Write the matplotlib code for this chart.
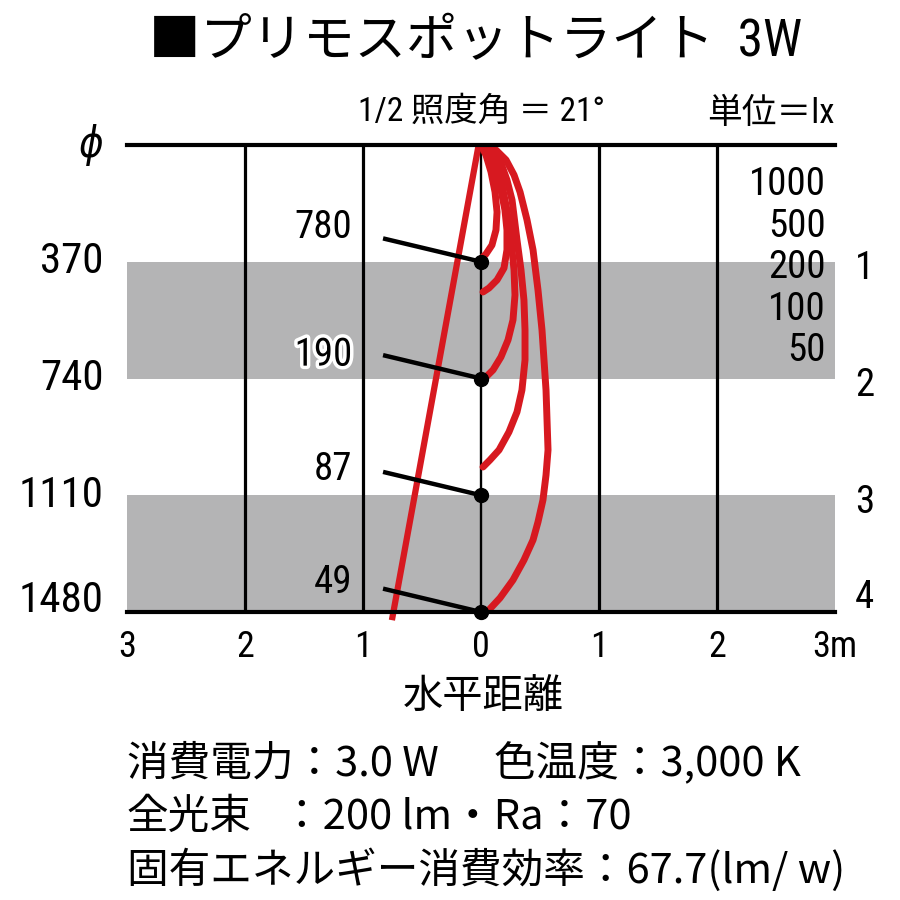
import matplotlib
matplotlib.use('Agg')
import matplotlib.pyplot as plt
import matplotlib.patheffects as pe
from matplotlib import font_manager

# 数字用に細身のフォントを探す（無ければ Noto Sans CJK JP のまま）
narrow_family = None
narrow_stretch = 'normal'
for f in font_manager.fontManager.ttflist:
    if f.name in ('Liberation Sans Narrow', 'Roboto Condensed'):
        narrow_family, narrow_stretch = f.name, f.stretch
        break
if narrow_family is None:
    for f in font_manager.fontManager.ttflist:
        if f.style == 'normal' and ('Condensed' in f.name or 'Narrow' in f.name
                                    or f.stretch in ('condensed', 'semi-condensed', 550, 600, 612, 625)):
            narrow_family, narrow_stretch = f.name, f.stretch
            break

families = ['Noto Sans CJK JP', 'DejaVu Sans']
if narrow_family:
    families = [narrow_family] + families
    plt.rcParams['font.stretch'] = narrow_stretch
plt.rcParams['font.family'] = families
SPEC_FONT = ['Noto Sans CJK JP', 'DejaVu Sans']

RED = '#d71920'
GRAY = '#b4b4b5'

# 照度分布（等照度曲線）: 水平距離 x[m], 距離 y[m]
lux_levels = ['1000', '500', '200', '100', '50']
curve_x = {
    '1000': [0.0, 0.042, 0.085, 0.119, 0.136, 0.127, 0.093, 0.042, 0.008],
    '500': [0.0, 0.059, 0.119, 0.169, 0.203, 0.220, 0.220, 0.195, 0.136, 0.068, 0.017],
    '200': [0.0, 0.076, 0.136, 0.178, 0.220, 0.254, 0.280, 0.288, 0.271, 0.229,
            0.169, 0.102, 0.042],
    '100': [0.0, 0.102, 0.169, 0.220, 0.263, 0.305, 0.339, 0.364, 0.373, 0.373,
            0.347, 0.305, 0.237, 0.153, 0.076, 0.017],
    '50': [0.0, 0.127, 0.212, 0.280, 0.331, 0.390, 0.441, 0.483, 0.517, 0.551,
           0.568, 0.551, 0.525, 0.483, 0.441, 0.364, 0.271, 0.161, 0.051],
}
curve_y = {
    '1000': [0.0, 0.086, 0.231, 0.403, 0.574, 0.728, 0.857, 0.934, 0.968],
    '500': [0.0, 0.086, 0.214, 0.385, 0.557, 0.728, 0.899, 1.054, 1.156, 1.225, 1.259],
    '200': [0.0, 0.069, 0.197, 0.343, 0.557, 0.814, 1.071, 1.285, 1.499, 1.670,
            1.816, 1.927, 1.987],
    '100': [0.0, 0.060, 0.154, 0.300, 0.471, 0.814, 1.071, 1.328, 1.585, 1.842,
            2.099, 2.287, 2.458, 2.612, 2.698, 2.758],
    '50': [0.0, 0.043, 0.128, 0.257, 0.403, 0.642, 0.899, 1.242, 1.585, 2.099,
           2.612, 2.827, 3.041, 3.229, 3.383, 3.555, 3.726, 3.880, 4.0],
}

# 1/2照度角の境界線
beam_x = [-0.02, -0.755]
beam_y = [0.0, 4.07]

# 直下照度と照射径
dist_m = [1, 2, 3, 4]
center_lux = ['780', '190', '87', '49']
center_lux_y = [0.71, 1.80, 2.78, 3.75]
diameters = ['370', '740', '1110', '1480']
dist_labels = ['1', '2', '3', '4']

x_ticks = [-3, -2, -1, 0, 1, 2, 3]
x_labels = ['3', '2', '1', '0', '1', '2', '3m']

fig = plt.figure(figsize=(9, 9), dpi=100)
ax = fig.add_axes([127 / 900, 1 - 612 / 900, 708 / 900, 467 / 900])
ax.set_xlim(-3, 3)
ax.set_ylim(4, 0)

# 背景の帯
ax.axhspan(1, 2, color=GRAY, lw=0, zorder=0)
ax.axhspan(3, 4, color=GRAY, lw=0, zorder=0)

# 枠と縦線
for s in ['left', 'right']:
    ax.spines[s].set_visible(False)
for s in ['top', 'bottom']:
    ax.spines[s].set_linewidth(3)
    ax.spines[s].set_zorder(3)
ax.vlines([-2, -1, 1, 2], 0, 4, colors='black', lw=2.3, zorder=1)
ax.vlines(0, 0, 4, colors='black', lw=1.7, zorder=1)

# 曲線
for lv in lux_levels:
    ax.plot(curve_x[lv], curve_y[lv], color=RED, lw=5,
            solid_capstyle='round', solid_joinstyle='round', zorder=2)
ax.plot(beam_x, beam_y, color=RED, lw=4.5, solid_capstyle='butt',
        zorder=2, clip_on=False)

# 直下照度の引出線
for d, lx, ly in zip(dist_m, center_lux, center_lux_y):
    ax.plot([-0.83, 0], [d - 0.2, d], color='black', lw=3.2, zorder=4,
            solid_capstyle='butt', clip_on=False)
    t = ax.text(-1.09, ly, lx, fontsize=28, ha='right', va='center', zorder=5)
    if lx == '190':
        t.set_path_effects([pe.withStroke(linewidth=5, foreground='white')])
ax.plot([0] * len(dist_m), dist_m, 'o', color='black', ms=10, zorder=6, clip_on=False)

# 軸ラベル
ax.set_xticks(x_ticks)
ax.set_xticklabels(x_labels, fontsize=26)
ax.set_yticks([])
ax.tick_params(axis='x', length=0, pad=12)

ax.text(-3.2, 0.0, r'$\phi$', fontsize=30, ha='right', va='center')
for d, dm in zip(dist_m, diameters):
    dy = -0.1 if d == 4 else 0.0
    ax.text(-3.2, d + dy, dm, fontsize=31, ha='right', va='center')
for d, lb in zip(dist_m, dist_labels):
    dy = -0.12 if d == 4 else 0.06
    ax.text(3.25, d + dy, lb, fontsize=28, ha='center', va='center', clip_on=False)

# 照度の凡例
for i, lv in enumerate(lux_levels):
    ax.text(2.92, 0.34 + i * 0.355, lv, fontsize=28, ha='right', va='center')

fig.text(476 / 900, 1 - 42 / 900, '■プリモスポットライト  3W', fontsize=37,
         ha='center', va='center')
fig.text(481 / 900, 1 - 112 / 900, '1/2 照度角 ＝ 21°', fontsize=24,
         ha='center', va='center')
fig.text(835 / 900, 1 - 114 / 900, '単位＝lx', fontsize=25, ha='right', va='center')
fig.text(483 / 900, 1 - 697 / 900, '水平距離', fontsize=29, ha='center', va='center')

# 仕様
spec = dict(fontsize=30, ha='left', va='center', family=SPEC_FONT)
fig.text(127 / 900, 1 - 764 / 900, '消費電力：3.0 W', **spec)
fig.text(494 / 900, 1 - 764 / 900, '色温度：3,000 K', **spec)
fig.text(127 / 900, 1 - 817 / 900, '全光束', **spec)
fig.text(281 / 900, 1 - 817 / 900, '：200 lm・Ra：70', **spec)
fig.text(127 / 900, 1 - 870 / 900, '固有エネルギー消費効率：67.7(lm/ w)', **spec)

fig.savefig('out.png', dpi=100)
